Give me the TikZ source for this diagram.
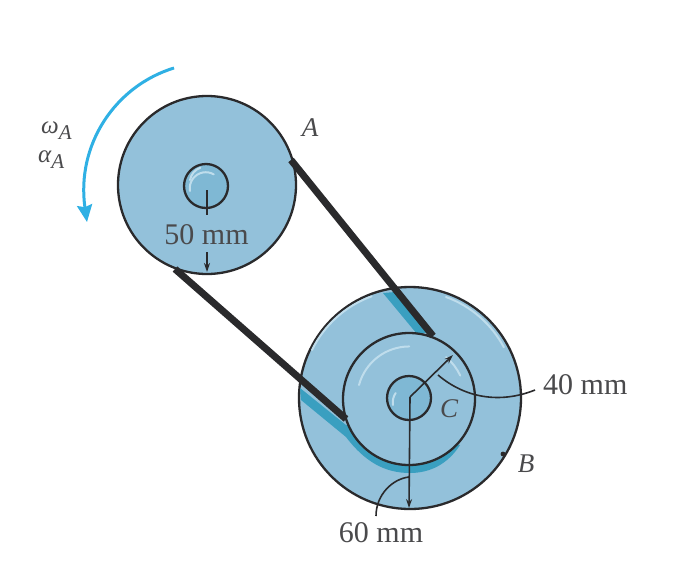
\documentclass[tikz,border=0pt]{standalone}
\usepackage{fontspec}
\setmainfont{Liberation Serif}
\usetikzlibrary{arrows.meta}
\definecolor{disc}{HTML}{93C1DA}
\definecolor{hubc}{HTML}{7FB8D4}
\definecolor{beltshade}{HTML}{3A9FC0}
\definecolor{hilite}{HTML}{BFDDEC}
\definecolor{ink}{HTML}{2A2A2C}
\definecolor{spin}{HTML}{2FB0E4}
\tikzset{
  pulley/.style={circle,draw=ink,line width=2.3pt,fill=disc,inner sep=0pt},
  hub/.style={circle,draw=ink,line width=2.3pt,fill=hubc,inner sep=0pt,minimum size=44pt},
  belt/.style={draw=ink,line width=7pt},
  dim/.style={draw=ink,line width=1.6pt},
  dimtip/.style={-{Stealth[length=9pt,width=6pt]}},
  lab/.style={text=ink!85,inner sep=0pt,font=\fontsize{30}{30}\selectfont},
  ital/.style={text=ink!85,inner sep=0pt,font=\fontsize{27}{27}\selectfont\itshape},
  sym/.style={text=ink!85,inner sep=0pt,font=\fontsize{25}{25}\selectfont\itshape},
  glow/.style={draw=hilite,line width=2pt,line cap=round}
}
\begin{document}
\begin{tikzpicture}[x=1pt,y=-1pt]
\useasboundingbox (0,0) rectangle (700,570);
\fill[white] (0,0) rectangle (700,570);
% pulley A
\node[pulley,minimum size=178pt] (pa) at (207,185) {};
\node[hub] (ha) at (206,186) {};
\draw[glow] (190,191) arc[start angle=170,end angle=300,radius=16];
\draw[glow] (190,180) arc[start angle=190,end angle=250,radius=16];
% pulley B
\node[pulley,minimum size=222pt] (pb) at (410,398) {};
\draw[glow] (312,350) arc[start angle=206,end angle=250,radius=107];
\draw[glow] (446,297) arc[start angle=-70,end angle=-28,radius=107];
% belt shadows on B
\fill[beltshade] (383,293) -- (395,292) -- (430,332) -- (417,334) -- cycle;
\fill[beltshade] (300,388) -- (346,425) -- (460,445)
  .. controls (448,464) and (430,473) .. (410,473)
  .. controls (385,473) and (365,462) .. (346,437)
  -- (301,400) -- cycle;
% pulley C
\node[pulley,minimum size=132pt] (pc) at (409,399) {};
\draw[glow] (359,385) arc[start angle=195,end angle=270,radius=52];
\draw[glow] (446,357) arc[start angle=-50,end angle=-25,radius=54];
\node[hub] (hc) at (409,398) {};
\draw[glow] (393,405) arc[start angle=170,end angle=215,radius=16];
% belts
\coordinate (ba1) at (291,160);
\coordinate (bb1) at (433,336);
\coordinate (ba2) at (175,269);
\coordinate (bb2) at (346,419);
\draw[belt] (ba1) -- (bb1);
\draw[belt] (ba2) -- (bb2);
% dimensions
\coordinate (cc) at (410,397);
\coordinate (ct) at (453,355);
\coordinate (cb) at (409,508);
\draw[dim,dimtip] (cc) -- (ct);
\draw[dim,dimtip] (cc) -- (cb);
\coordinate (d50a) at (207,190);
\coordinate (d50b) at (207,215);
\coordinate (d50c) at (207,252);
\coordinate (d50d) at (207,272);
\draw[dim,line width=2pt] (d50a) -- (d50b);
\draw[dim,dimtip] (d50c) -- (d50d);
% leaders
\coordinate (l40a) at (438,375);
\coordinate (l40b) at (535,390);
\coordinate (l60a) at (409,477);
\coordinate (l60b) at (376,516);
\draw[dim] (l40a) .. controls (465,398) and (500,404) .. (l40b);
\draw[dim] (l60a) .. controls (392,479) and (376,495) .. (l60b);
\fill[ink] (503,454) circle[radius=2.4pt];
% spin arrow
\coordinate (w1) at (174,68);
\coordinate (w2) at (87,222);
\draw[spin,line width=3pt,-{Stealth[length=17pt,width=15pt,inset=2pt]}] (w1) .. controls (115,86) and (76,145) .. (w2);
% labels
\node[lab] (t50) at (206.5,235) {50 mm};
\node[lab,anchor=west] (t40) at (543,385) {40 mm};
\node[lab] (t60) at (381,533) {60 mm};
\node[ital] (ta) at (310,128) {A};
\node[ital] (tb) at (526,464) {B};
\node[ital] (tc) at (449,409) {C};
\node[sym,anchor=west] (tw) at (41,131) {ω\raisebox{-6pt}{\fontsize{21}{21}\selectfont A}};
\node[sym,anchor=west] (tal) at (38,160) {α\raisebox{-6pt}{\fontsize{21}{21}\selectfont A}};
\end{tikzpicture}
\end{document}
